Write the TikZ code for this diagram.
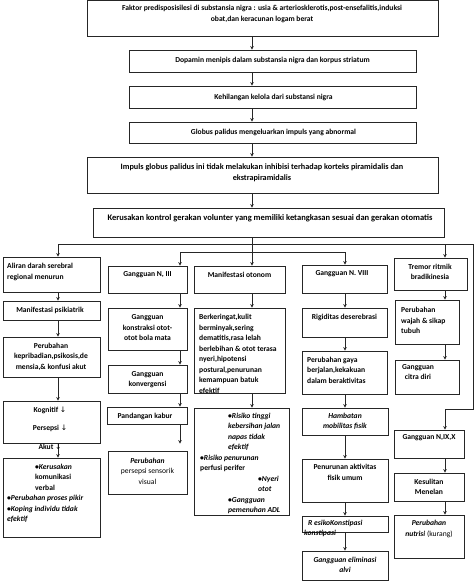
\documentclass[tikz,border=0pt]{standalone}
\usepackage{fontspec}
\setmainfont{Carlito}
\newfontfamily\symf{DejaVu Sans}
\usetikzlibrary{arrows.meta}
\newcommand\dnarr{{\symf\mdseries ↓}}
\newcommand\bx[5]{\node[box, minimum width={(#4-(#2))*1pt}, minimum height={(#5-(#3))*1pt}] (#1) at ({(#2+#4)/2},{(#3+#5)/2}) {};}
\begin{document}
\begin{tikzpicture}[x=1pt,y=-1pt,
  box/.style={draw=black!85, line width=0.9pt, inner sep=0pt, fill=white},
  txt/.style={inner sep=0pt, font=\fontsize{7.6}{10.5}\selectfont\bfseries, align=center},
  ltxt/.style={txt, align=left, anchor=west},
  arr/.style={draw=black!85, line width=0.7pt, -{Stealth[length=3.5pt,width=3.5pt]}},
  ln/.style={draw=black!85, line width=0.7pt}]
\useasboundingbox (0,0) rectangle (474,581);
% main chain
\bx{b1}{87}{0.5}{438}{36}
\bx{b2}{129}{50}{416}{72}
\bx{b3}{129}{86}{416}{108}
\bx{b4}{129}{122}{416}{143}
\bx{b5}{87}{157}{438}{193}
\bx{b6}{93}{208}{444}{237}
% column 1
\bx{a1}{3}{257}{100}{292}
\bx{a2}{3}{301}{100}{320}
\bx{a3}{3}{337}{100}{377}
\bx{a4}{3}{401}{100}{443}
\bx{a5}{3}{458}{100}{537}
% column 2
\bx{g1}{108}{266}{187}{293}
\bx{g2}{108}{308}{187}{350}
\bx{g3}{108}{365}{187}{393}
\bx{g4}{107}{407}{187}{424}
\bx{g5}{108}{451}{187}{494}
% column 3
\bx{m1}{194}{266}{285}{293}
\bx{m2}{194}{308}{285}{393}
\bx{m3}{194}{408}{289}{515}
% column 4
\bx{v1}{302}{265}{387}{293}
\bx{v2}{302}{308}{387}{337}
\bx{v3}{302}{351}{387}{394}
\bx{v4}{302}{408}{388}{435}
\bx{v5}{302}{459}{388}{502}
\bx{v6}{302}{516}{388}{532}
\bx{v7}{302}{551}{388}{580}
% column 5
\bx{t1}{394}{258}{467}{290}
\bx{t2}{395}{300}{459}{344}
\bx{t3}{395}{360}{459}{394}
\bx{t4}{394}{430}{464}{458}
\bx{t5}{394}{473}{464}{501}
\bx{t6}{394}{515}{464}{558}
% column x positions
\coordinate (c1) at (58,0);
\coordinate (c2) at (180,0);
\coordinate (c3) at (252,0);
\coordinate (c4) at (345,0);
\coordinate (c5) at (445,0);
\coordinate (h1) at (58,244);
\coordinate (h2) at (473,244);
\coordinate (h3) at (473,409);
\coordinate (h4) at (180,252);
\coordinate (h5) at (345,252);
% connectors main chain
\draw[arr] (b1.south -| c3) -- (b2.north -| c3);
\draw[arr] (b2.south -| c3) -- (b3.north -| c3);
\draw[arr] (b3.south -| c3) -- (b4.north -| c3);
\draw[arr] (b4.south -| c3) -- (b5.north -| c3);
\draw[arr] (b5.south -| c3) -- (b6.north -| c3);
\draw[arr] (b6.south -| c3) -- (m1.north -| c3);
% distribution
\draw[arr] (h2) -- (h1) -- (a1.north -| c1);
\draw[arr] (h2) -- (h3) -- (h3 -| c5) -- (t4.north -| c5);
\draw[arr] (h2 -| c5) -- (t1.north -| c5);
\draw[ln] (h4) -- (h5);
\draw[arr] (h4) -- (g1.north -| c2);
\draw[arr] (h5) -- (v1.north -| c4);
% column 1
\draw[arr] (a1.south -| c1) -- (a2.north -| c1);
\draw[arr] (a2.south -| c1) -- (a3.north -| c1);
\draw[arr] (a3.south -| c1) -- (a4.north -| c1);
\draw[arr] (a4.south -| c1) -- (a5.north -| c1);
% column 2
\draw[arr] (g1.south -| c2) -- (g2.north -| c2);
\draw[arr] (g2.south -| c2) -- (g3.north -| c2);
\draw[arr] (g3.south -| c2) -- (g4.north -| c2);
\draw[arr, shorten >=7pt] (g4.south -| c2) -- (g5.north -| c2);
% column 3
\draw[arr] (m1.south -| c3) -- (m2.north -| c3);
\draw[arr] (m2.south -| c3) -- (m3.north -| c3);
% column 4
\draw[arr] (v1.south -| c4) -- (v2.north -| c4);
\draw[arr] (v2.south -| c4) -- (v3.north -| c4);
\draw[arr] (v3.south -| c4) -- (v4.north -| c4);
\draw[arr] (v4.south -| c4) -- (v5.north -| c4);
\draw[arr] (v5.south -| c4) -- (v6.north -| c4);
\draw[arr] (v6.south -| c4) -- (v7.north -| c4);
% column 5
\draw[arr] (t1.south -| c5) -- (t2.north -| c5);
\draw[arr] (t2.south -| c5) -- (t3.north -| c5);
\draw[arr] (t4.south -| c5) -- (t5.north -| c5);
\draw[arr] (t5.south -| c5) -- (t6.north -| c5);
% texts main chain
\node[txt] (tb1) at (262,14) {Faktor predisposisilesi di substansia nigra : usia \& arteriosklerotis,post-ensefalitis,induksi\\obat,dan keracunan logam berat};
\node[txt] (tb2) at (272.5,60) {Dopamin menipis dalam substansia nigra dan korpus striatum};
\node[txt] (tb3) at (273.5,97) {Kehilangan kelola dari substansi nigra};
\node[txt] (tb4) at (273.5,132) {Globus palidus mengeluarkan impuls yang abnormal};
\node[txt, font=\fontsize{8.2}{11}\selectfont\bfseries] (tb5) at (262,172.5) {Impuls globus palidus ini tidak melakukan inhibisi terhadap korteks piramidalis dan\\ekstrapiramidalis};
\node[txt, font=\fontsize{8.5}{11}\selectfont\bfseries] (tb6) at (270,218) {Kerusakan kontrol gerakan volunter yang memiliki ketangkasan sesuai dan gerakan otomatis};
% column 1 texts
\node[ltxt] (ta1) at (7,272) {Aliran darah serebral\\regional menurun};
\node[txt] (ta2) at (50,310) {Manifestasi psikiatrik};
\node[txt] (ta3) at (51,356.5) {Perubahan\\kepribadian,psikosis,de\\mensia,\& konfusi akut};
\node[txt] (ta4) at (50,419) {Kognitif \dnarr\\[7.5pt]Persepsi \dnarr};
\node[txt] (tak) at (50,447) {Akut \dnarr};
\node[ltxt] (ta5) at (7,493.5) {\hspace*{28pt}•\textit{Kerusakan}\\\hspace*{28pt}komunikasi\\\hspace*{28pt}verbal\\•\textit{Perubahan proses pikir}\\•\textit{Koping individu tidak}\\\textit{efektif}};
% column 2 texts
\node[txt] (tg1) at (147.5,275) {Gangguan N, III};
\node[txt] (tg2) at (147.5,328) {Gangguan\\konstraksi otot-\\otot bola mata};
\node[txt] (tg3) at (147.5,379.5) {Gangguan\\konvergensi};
\node[txt] (tg4) at (145,416) {Pandangan kabur};
\node[txt] (tg5) at (147.5,471) {\textit{Perubahan}\\{\mdseries persepsi sensorik}\\{\mdseries visual}};
% column 3 texts
\node[txt] (tm1) at (239.5,275) {Manifestasi otonom};
\node[ltxt] (tm2) at (199,354) {Berkeringat,kulit\\berminyak,sering\\dematitis,rasa lelah\\berlebihan \& otot terasa\\nyeri,hipotensi\\postural,penurunan\\kemampuan batuk\\efektif};
\node[ltxt] (tm3) at (200,463.5) {\hspace*{28pt}•\textit{Risiko tinggi}\\\hspace*{28pt}\textit{kebersihan jalan}\\\hspace*{28pt}\textit{napas tidak}\\\hspace*{28pt}\textit{efektif}\\•\textit{Risiko penurunan}\\perfusi perifer\\\hspace*{58pt}•\textit{Nyeri}\\\hspace*{58pt}\textit{otot}\\\hspace*{28pt}•\textit{Gangguan}\\\hspace*{28pt}\textit{pemenuhan ADL}};
% column 4 texts
\node[txt] (tv1) at (342,274) {Gangguan N. VIII};
\node[txt] (tv2) at (344.5,317) {Rigiditas deserebrasi};
\node[ltxt] (tv3) at (307,370) {Perubahan gaya\\berjalan,kekakuan\\dalam beraktivitas};
\node[txt] (tv4) at (345,421.5) {\textit{Hambatan}\\\textit{mobilitas fisik}};
\node[txt] (tv5) at (345,472.5) {Penurunan aktivitas\\fisik umum};
\node[ltxt, font=\fontsize{7.6}{9.5}\selectfont\bfseries] (tv6) at (304,528.5) {\hspace*{4pt}\textit{R esikoKonstipasi}\\\textit{konstipasi}};
\node[txt] (tv7) at (345,565) {\textit{Gangguan eliminasi}\\\textit{alvi}};
% column 5 texts
\node[txt] (tt1) at (430,272) {Tremor ritmik\\bradikinesia};
\node[ltxt] (tt2) at (401,320.5) {Perubahan\\wajah \& sikap\\tubuh};
\node[txt] (tt3) at (418,372) {Gangguan\\citra diri};
\node[txt] (tt4) at (429,438) {Gangguan N,IX,X};
\node[txt] (tt5) at (429,487) {Kesulitan\\Menelan};
\node[txt] (tt6) at (429,529) {\textit{Perubahan}\\\textit{nutrisi} {\mdseries(kurang)}};
\end{tikzpicture}
\end{document}
